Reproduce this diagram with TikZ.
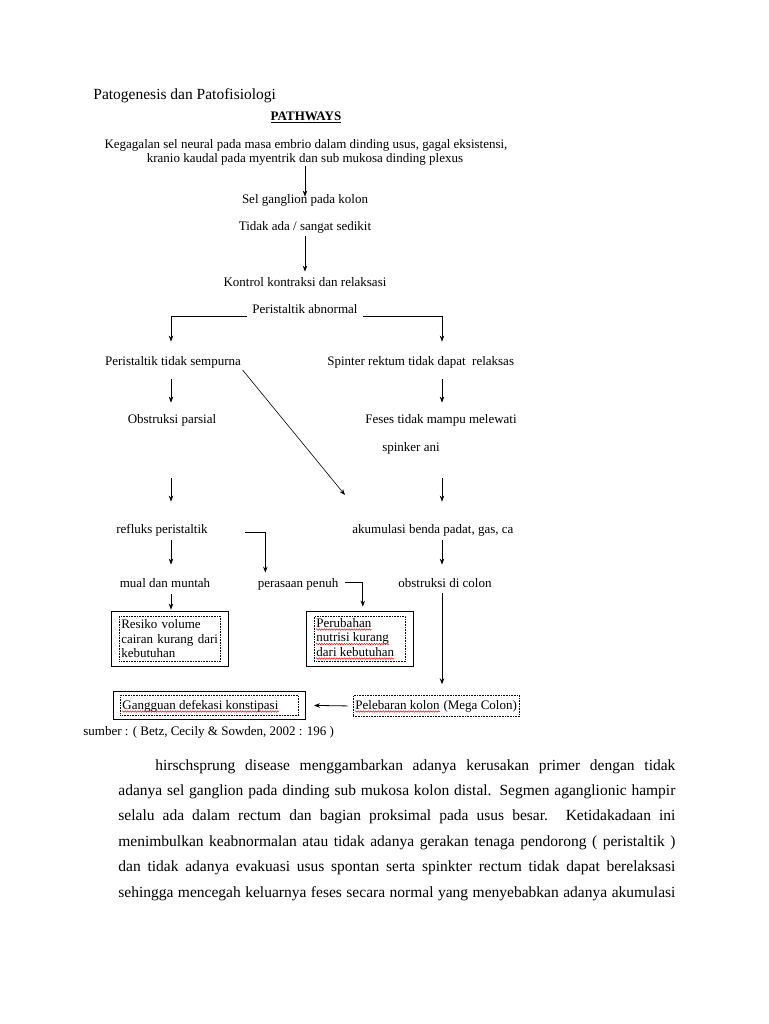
\documentclass[tikz,border=0pt]{standalone}
\usepackage{fontspec}
\setmainfont{Liberation Serif}
\usetikzlibrary{arrows.meta,fit,decorations.pathmorphing}

\begin{document}
\begin{tikzpicture}[x=1pt,y=-1pt,->,>={Stealth[length=6pt,width=4.5pt]},line width=0.8pt]
	\tikzstyle{every node}=[inner sep=0pt,font=\fontsize{13}{15}\selectfont]
	\tikzstyle{teks}=[text height=9pt,text depth=3pt]
	\tikzstyle{kotak}=[draw,densely dotted,line width=0.6pt,inner sep=2pt,align=left,font=\fontsize{13}{14.5}\selectfont]
	\tikzstyle{luar}=[draw,solid,line width=0.8pt]
	% garis merah bergelombang (koreksi ejaan)
	\tikzstyle{gelombang}=[-,red,line width=0.5pt,decorate,decoration={snake,amplitude=0.7pt,segment length=2.5pt}]
	\useasboundingbox (0,0) rectangle (768,1024);

	\node[anchor=west,font=\fontsize{15.5}{18}\selectfont] (judul) at (93,96) {Patogenesis dan Patofisiologi};
	\node[teks,font=\fontsize{13}{15}\bfseries] (pathways) at (306,118) {\underline{PATHWAYS}};
	\node[teks] (gagal1) at (306,146) {Kegagalan sel neural pada masa embrio dalam dinding usus, gagal eksistensi,};
	\node[teks] (gagal2) at (305,160) {kranio kaudal pada myentrik dan sub mukosa dinding plexus};
	\node[teks] (sel)      at (305,201) {Sel ganglion pada kolon};
	\node[teks] (tidak)    at (305,228) {Tidak ada / sangat sedikit};
	\node[teks] (kontrol)  at (305,283) {Kontrol kontraksi dan relaksasi};
	\node[teks] (abnormal) at (305,310) {Peristaltik abnormal};

	\node[teks] (psempurna) at (173,362) {Peristaltik tidak sempurna};
	\node[teks,anchor=west] (spinter) at (327,362) {Spinter rektum tidak dapat\ \ relaksas};
	\node[teks] (parsial) at (172,420) {Obstruksi parsial};
	\node[teks,anchor=west] (feses) at (365,420) {Feses tidak mampu melewati};
	\node[teks] (ani) at (411,448) {spinker ani};
	\node[teks] (refluks) at (162,530) {refluks peristaltik};
	\node[teks,anchor=west] (akumulasi) at (352,530) {akumulasi benda padat, gas, ca};
	\node[teks] (mual)  at (165,584) {mual dan muntah};
	\node[teks] (penuh) at (298,584) {perasaan penuh};
	\node[teks] (colon) at (445,584) {obstruksi di colon};

	% kotak hasil
	\node[kotak,anchor=north west,text width=97pt,minimum height=45pt] (resiko) at (119,616)
		{Resiko volume\\cairan kurang dari\\kebutuhan};
	\node (resikoluar) [luar,fit=(resiko),inner xsep=8pt,inner ysep=5pt] {};

	\node[kotak,anchor=north west,minimum width=91pt,minimum height=45pt] (nutrisi) at (314,616) {};
	\node[teks,anchor=base west] (nutrisi1) at (316,627) {Perubahan};
	\node[teks,anchor=base west] (nutrisi2) at (316,641.5) {nutrisi kurang};
	\node[teks,anchor=base west] (nutrisi3) at (316,656) {dari kebutuhan};
	\node (nutrisiluar) [luar,fit=(nutrisi),inner xsep=7.5pt,inner ysep=5pt] {};

	\node[kotak,anchor=north west,minimum width=178pt,minimum height=20pt] (gangguan) at (120,695) {};
	\node[teks,anchor=base west] (gangguantxt) at (122,709) {Gangguan defekasi konstipasi};
	\node (gangguanluar) [luar,fit=(gangguan),inner xsep=7pt,inner ysep=3.5pt] {};

	\node[teks,anchor=base west] (pelebaran1) at (355,709) {Pelebaran kolon};
	\node[teks,anchor=base west] (pelebaran2) at ([xshift=3.25pt]pelebaran1.base east) {(Mega Colon)};
	\node (pelebaran) [kotak,fit=(pelebaran1) (pelebaran2),inner xsep=2pt,inner ysep=4pt] {};

	\foreach \n in {nutrisi1,nutrisi2,nutrisi3,gangguantxt,pelebaran1}
		\draw[gelombang] ([yshift=-2.5pt]\n.base west) -- ([yshift=-2.5pt]\n.base east);

	\node[anchor=west] (sumber) at (83,732) {sumber : ( Betz, Cecily \& Sowden, 2002 : 196 )};

	\node[anchor=north west,text width=557pt,align=justify,font=\fontsize{15.5}{25.4}\selectfont] (paragraf) at (118,759)
		{\parfillskip=0pt\hyphenpenalty=10000\leavevmode\hspace*{37pt}hirschsprung disease menggambarkan adanya kerusakan primer dengan tidak\linebreak
		adanya sel ganglion pada dinding sub mukosa kolon distal. Segmen aganglionic hampir\linebreak
		selalu ada dalam rectum dan bagian proksimal pada usus besar. Ketidakadaan ini\linebreak
		menimbulkan keabnormalan atau tidak adanya gerakan tenaga pendorong ( peristaltik )\linebreak
		dan tidak adanya evakuasi usus spontan serta spinkter rectum tidak dapat berelaksasi\linebreak
		sehingga mencegah keluarnya feses secara normal yang menyebabkan adanya akumulasi\par};

	\coordinate (kiri) at (171,0);
	\coordinate (kanan) at (442,0);
	\coordinate (ujung) at (345,495);

	\path (gagal2) edge[shorten >=-2pt] (sel)
		(tidak) edge[shorten <=2pt,shorten >=5pt] (kontrol)
		(psempurna.south -| kiri) edge[shorten <=11pt,shorten >=11pt] (parsial.north -| kiri)
		(parsial.south -| kiri) edge[shorten <=52pt,shorten >=22pt] (refluks.north -| kiri)
		(refluks.south -| kiri) edge[shorten <=4pt,shorten >=13pt] (mual.north -| kiri)
		(mual.south -| kiri) edge[shorten <=4pt,shorten >=1pt] (resikoluar.north -| kiri)
		(spinter.south -| kanan) edge[shorten <=11pt,shorten >=11pt] (feses.north -| kanan)
		(ani.south -| kanan) edge[shorten <=24pt,shorten >=22pt] (akumulasi.north -| kanan)
		(akumulasi.south -| kanan) edge[shorten <=4pt,shorten >=13pt] (colon.north -| kanan)
		(colon.south -| kanan) edge[shorten <=3pt,shorten >=11pt] (pelebaran.north -| kanan)
		(pelebaran.west) edge[shorten <=5pt,shorten >=8pt] (gangguanluar.east)
		(psempurna.south east) edge[line width=0.6pt,shorten <=2pt] (ujung);

	\draw[shorten >=14pt] ([xshift=-5pt,yshift=-6pt]abnormal.west) -| (psempurna.north -| kiri);
	\draw[shorten >=14pt] ([xshift=5pt,yshift=-6pt]abnormal.east) -| (spinter.north -| kanan);
	\draw[shorten <=37pt,shorten >=5pt] ([yshift=-2pt]refluks.east) -| ([xshift=8pt]penuh.north west);
	\draw[shorten <=6pt,shorten >=4pt] ([yshift=2pt]penuh.east) -| ([xshift=3pt]nutrisiluar.north);
\end{tikzpicture}
\end{document}
